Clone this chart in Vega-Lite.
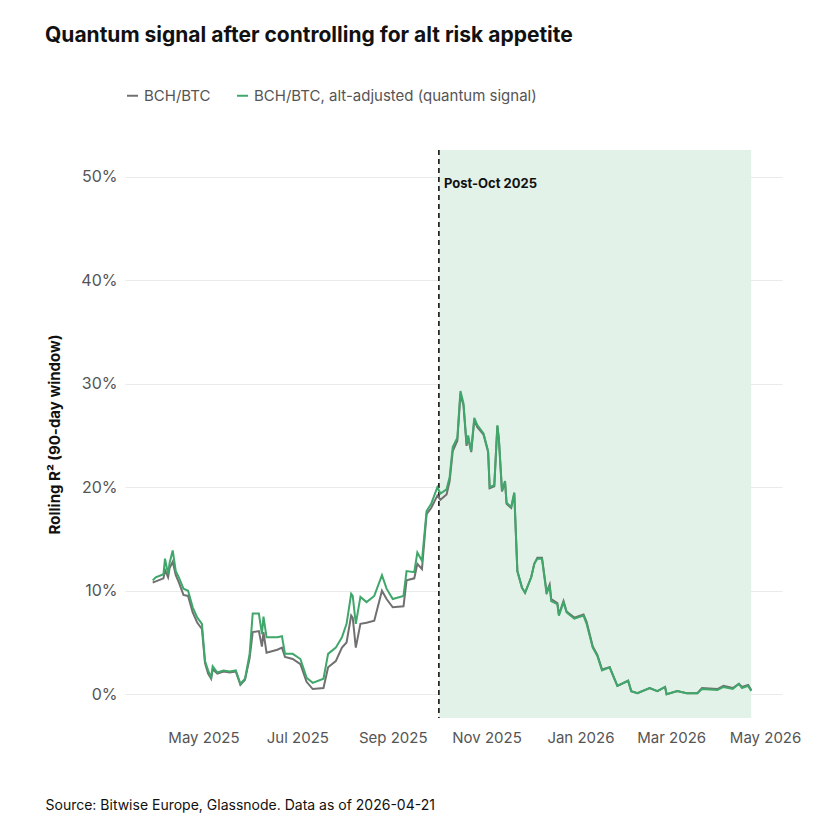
{
  "$schema": "https://vega.github.io/schema/vega-lite/v6.json",
  "width": 657,
  "height": 568,
  "autosize": {"type": "none"},
  "padding": {"left": 125, "top": 150, "right": 46, "bottom": 110},
  "background": "white",
  "config": {"view": {"stroke": null}, "font": "Inter"},
  "title": {
    "text": "Quantum signal after controlling for alt risk appetite",
    "anchor": "start", "frame": "group", "dx": -80, "offset": 42,
    "fontSize": 21, "fontWeight": "bold", "color": "#111111"
  },
  "data": {"values": [
    {"date": "2025-03-29", "raw": 10.8, "adj": 11.0},
    {"date": "2025-03-31", "raw": 10.9, "adj": 11.3},
    {"date": "2025-04-05", "raw": 11.2, "adj": 11.6},
    {"date": "2025-04-06", "raw": 12.0, "adj": 13.1},
    {"date": "2025-04-08", "raw": 11.3, "adj": 11.6},
    {"date": "2025-04-09", "raw": 12.2, "adj": 12.7},
    {"date": "2025-04-11", "raw": 12.8, "adj": 13.9},
    {"date": "2025-04-13", "raw": 11.5, "adj": 11.9},
    {"date": "2025-04-15", "raw": 10.8, "adj": 11.3},
    {"date": "2025-04-18", "raw": 9.6, "adj": 10.2},
    {"date": "2025-04-21", "raw": 9.5, "adj": 10.0},
    {"date": "2025-04-24", "raw": 7.9, "adj": 8.4},
    {"date": "2025-04-27", "raw": 6.9, "adj": 7.4},
    {"date": "2025-04-30", "raw": 6.3, "adj": 6.8},
    {"date": "2025-05-02", "raw": 3.0, "adj": 3.2},
    {"date": "2025-05-04", "raw": 2.0, "adj": 2.3},
    {"date": "2025-05-06", "raw": 1.5, "adj": 1.6},
    {"date": "2025-05-07", "raw": 2.4, "adj": 2.7},
    {"date": "2025-05-10", "raw": 2.0, "adj": 2.1},
    {"date": "2025-05-14", "raw": 2.2, "adj": 2.3},
    {"date": "2025-05-18", "raw": 2.1, "adj": 2.2},
    {"date": "2025-05-22", "raw": 2.2, "adj": 2.3},
    {"date": "2025-05-25", "raw": 0.9, "adj": 1.0},
    {"date": "2025-05-28", "raw": 1.4, "adj": 1.5},
    {"date": "2025-05-31", "raw": 3.5, "adj": 3.9},
    {"date": "2025-06-02", "raw": 6.0, "adj": 7.8},
    {"date": "2025-06-06", "raw": 6.1, "adj": 7.8},
    {"date": "2025-06-08", "raw": 4.6, "adj": 5.8},
    {"date": "2025-06-09", "raw": 6.0, "adj": 7.5},
    {"date": "2025-06-11", "raw": 4.0, "adj": 5.5},
    {"date": "2025-06-18", "raw": 4.3, "adj": 5.5},
    {"date": "2025-06-21", "raw": 4.5, "adj": 5.6},
    {"date": "2025-06-23", "raw": 3.6, "adj": 3.9},
    {"date": "2025-06-28", "raw": 3.4, "adj": 3.9},
    {"date": "2025-07-03", "raw": 2.9, "adj": 3.4},
    {"date": "2025-07-07", "raw": 1.2, "adj": 1.6},
    {"date": "2025-07-11", "raw": 0.5, "adj": 1.1},
    {"date": "2025-07-18", "raw": 0.6, "adj": 1.5},
    {"date": "2025-07-21", "raw": 2.6, "adj": 3.9},
    {"date": "2025-07-26", "raw": 3.2, "adj": 4.5},
    {"date": "2025-07-30", "raw": 4.5, "adj": 5.5},
    {"date": "2025-08-02", "raw": 5.0, "adj": 6.8},
    {"date": "2025-08-05", "raw": 7.6, "adj": 9.7},
    {"date": "2025-08-06", "raw": 7.4, "adj": 9.5},
    {"date": "2025-08-08", "raw": 4.5, "adj": 6.8},
    {"date": "2025-08-11", "raw": 6.8, "adj": 9.4},
    {"date": "2025-08-15", "raw": 6.9, "adj": 8.9},
    {"date": "2025-08-20", "raw": 7.1, "adj": 9.5},
    {"date": "2025-08-25", "raw": 10.0, "adj": 11.5},
    {"date": "2025-08-28", "raw": 9.2, "adj": 10.2},
    {"date": "2025-09-01", "raw": 8.4, "adj": 9.2},
    {"date": "2025-09-08", "raw": 8.5, "adj": 9.5},
    {"date": "2025-09-10", "raw": 11.0, "adj": 11.9},
    {"date": "2025-09-15", "raw": 11.2, "adj": 11.8},
    {"date": "2025-09-17", "raw": 12.6, "adj": 13.7},
    {"date": "2025-09-20", "raw": 12.1, "adj": 12.9},
    {"date": "2025-09-23", "raw": 17.4, "adj": 17.7},
    {"date": "2025-09-26", "raw": 18.0, "adj": 18.4},
    {"date": "2025-09-30", "raw": 19.2, "adj": 20.0},
    {"date": "2025-10-02", "raw": 18.8, "adj": 19.4},
    {"date": "2025-10-06", "raw": 19.3, "adj": 19.8},
    {"date": "2025-10-08", "raw": 20.6, "adj": 21.0},
    {"date": "2025-10-10", "raw": 23.5, "adj": 23.9},
    {"date": "2025-10-13", "raw": 24.5, "adj": 24.8},
    {"date": "2025-10-15", "raw": 29.0, "adj": 29.3},
    {"date": "2025-10-17", "raw": 27.9, "adj": 28.1},
    {"date": "2025-10-19", "raw": 24.0, "adj": 24.2},
    {"date": "2025-10-20", "raw": 24.8, "adj": 25.0},
    {"date": "2025-10-22", "raw": 23.4, "adj": 23.5},
    {"date": "2025-10-24", "raw": 26.5, "adj": 26.7},
    {"date": "2025-10-26", "raw": 25.8, "adj": 26.0},
    {"date": "2025-10-30", "raw": 25.1, "adj": 25.2},
    {"date": "2025-11-02", "raw": 23.4, "adj": 23.5},
    {"date": "2025-11-03", "raw": 19.9, "adj": 20.0},
    {"date": "2025-11-06", "raw": 20.1, "adj": 20.2},
    {"date": "2025-11-08", "raw": 25.9, "adj": 26.0},
    {"date": "2025-11-09", "raw": 24.6, "adj": 24.7},
    {"date": "2025-11-11", "raw": 19.6, "adj": 19.7},
    {"date": "2025-11-13", "raw": 20.5, "adj": 20.6},
    {"date": "2025-11-14", "raw": 18.4, "adj": 18.5},
    {"date": "2025-11-17", "raw": 18.0, "adj": 18.1},
    {"date": "2025-11-19", "raw": 19.4, "adj": 19.5},
    {"date": "2025-11-21", "raw": 11.9, "adj": 11.9},
    {"date": "2025-11-24", "raw": 10.3, "adj": 10.3},
    {"date": "2025-11-26", "raw": 9.8, "adj": 9.8},
    {"date": "2025-11-30", "raw": 11.3, "adj": 11.3},
    {"date": "2025-12-02", "raw": 12.6, "adj": 12.6},
    {"date": "2025-12-04", "raw": 13.2, "adj": 13.1},
    {"date": "2025-12-07", "raw": 13.2, "adj": 13.1},
    {"date": "2025-12-10", "raw": 9.9, "adj": 9.7},
    {"date": "2025-12-12", "raw": 10.6, "adj": 10.5},
    {"date": "2025-12-13", "raw": 9.2, "adj": 9.0},
    {"date": "2025-12-17", "raw": 8.8, "adj": 8.7},
    {"date": "2025-12-18", "raw": 7.7, "adj": 7.6},
    {"date": "2025-12-21", "raw": 9.0, "adj": 8.9},
    {"date": "2025-12-23", "raw": 8.0, "adj": 7.9},
    {"date": "2025-12-28", "raw": 7.4, "adj": 7.3},
    {"date": "2026-01-03", "raw": 7.7, "adj": 7.6},
    {"date": "2026-01-05", "raw": 7.0, "adj": 6.8},
    {"date": "2026-01-09", "raw": 4.6, "adj": 4.5},
    {"date": "2026-01-12", "raw": 3.8, "adj": 3.7},
    {"date": "2026-01-15", "raw": 2.4, "adj": 2.3},
    {"date": "2026-01-20", "raw": 2.6, "adj": 2.6},
    {"date": "2026-01-25", "raw": 0.8, "adj": 0.8},
    {"date": "2026-02-01", "raw": 1.3, "adj": 1.3},
    {"date": "2026-02-03", "raw": 0.3, "adj": 0.3},
    {"date": "2026-02-07", "raw": 0.1, "adj": 0.1},
    {"date": "2026-02-15", "raw": 0.6, "adj": 0.6},
    {"date": "2026-02-20", "raw": 0.3, "adj": 0.3},
    {"date": "2026-02-25", "raw": 0.7, "adj": 0.7},
    {"date": "2026-02-26", "raw": 0.0, "adj": 0.0},
    {"date": "2026-03-05", "raw": 0.3, "adj": 0.3},
    {"date": "2026-03-11", "raw": 0.1, "adj": 0.1},
    {"date": "2026-03-18", "raw": 0.1, "adj": 0.1},
    {"date": "2026-03-21", "raw": 0.6, "adj": 0.5},
    {"date": "2026-03-31", "raw": 0.5, "adj": 0.4},
    {"date": "2026-04-04", "raw": 0.8, "adj": 0.7},
    {"date": "2026-04-10", "raw": 0.6, "adj": 0.5},
    {"date": "2026-04-14", "raw": 1.0, "adj": 1.0},
    {"date": "2026-04-16", "raw": 0.7, "adj": 0.6},
    {"date": "2026-04-20", "raw": 0.9, "adj": 0.8},
    {"date": "2026-04-22", "raw": 0.4, "adj": 0.3}
  ]},
  "layer": [
    {
      "data": {"values": [{"start": "2025-10-01", "end": "2026-04-22", "label": "Post-Oct 2025", "ly": 49.3}]},
      "layer": [
        {"mark": {"type": "rect", "color": "#e3f2e9"},
         "encoding": {"x": {"field": "start", "type": "temporal"}, "x2": {"field": "end"}}},
        {"mark": {"type": "rule", "color": "#111111", "strokeDash": [5, 4], "strokeWidth": 1.6},
         "encoding": {"x": {"field": "start", "type": "temporal"}}},
        {"mark": {"type": "text", "align": "left", "dx": 5, "fontSize": 13, "fontWeight": "bold", "color": "#111111"},
         "encoding": {"x": {"field": "start", "type": "temporal"}, "y": {"field": "ly", "type": "quantitative"}, "text": {"field": "label"}}}
      ]
    },
    {
      "transform": [{"fold": ["raw", "adj"], "as": ["series", "value"]}],
      "mark": {"type": "line", "strokeWidth": 2},
      "encoding": {
        "x": {
          "field": "date", "type": "temporal",
          "scale": {"domain": ["2025-03-11", "2026-05-12"]},
          "axis": {
            "format": "%b %Y", "tickCount": {"interval": "month", "step": 2},
            "grid": false, "domain": false, "ticks": false,
            "labelFontSize": 15, "labelColor": "#555555", "labelPadding": 12,
            "title": "Source: Bitwise Europe, Glassnode. Data as of 2026-04-21",
            "titleAnchor": "start", "titleAlign": "left", "titleX": -80, "titleY": 80,
            "titleFontSize": 14, "titleFontWeight": "normal", "titleColor": "#111111"
          }
        },
        "y": {
          "field": "value", "type": "quantitative",
          "scale": {"domain": [-2.3, 52.6], "nice": false, "zero": false},
          "axis": {
            "values": [0, 10, 20, 30, 40, 50], "labelExpr": "datum.value + '%'",
            "domain": false, "ticks": false, "gridColor": "#eaeaea",
            "labelFontSize": 16, "labelColor": "#555555", "labelPadding": 8,
            "title": "Rolling R² (90-day window)", "titleFontSize": 15, "titleFontWeight": "bold",
            "titleColor": "#111111", "titlePadding": 18
          }
        },
        "color": {
          "field": "series", "type": "nominal",
          "scale": {"domain": ["raw", "adj"], "range": ["#707070", "#3fa76a"]},
          "legend": {
            "orient": "none", "legendX": 0, "legendY": -62, "direction": "horizontal",
            "title": null, "symbolType": "stroke", "symbolSize": 120, "symbolStrokeWidth": 2,
            "labelFontSize": 15, "labelColor": "#555555", "columnPadding": 22, "labelLimit": 0,
            "labelExpr": "datum.value == 'raw' ? 'BCH/BTC' : 'BCH/BTC, alt-adjusted (quantum signal)'"
          }
        },
        "order": {"field": "series", "sort": "descending"}
      }
    }
  ]
}
